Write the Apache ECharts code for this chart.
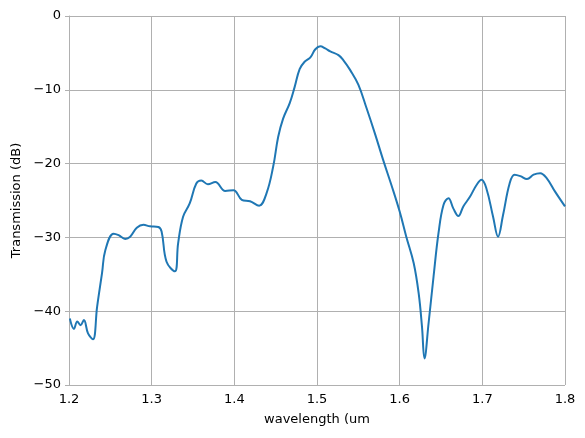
<!DOCTYPE html>
<html>
<head>
<meta charset="utf-8">
<script src="https://cdn.jsdelivr.net/npm/echarts@6/dist/echarts.min.js"></script>
<style>html,body{margin:0;padding:0;background:#fff}#chart{width:585px;height:438px}</style>
</head>
<body>
<div id="chart"></div>
<script>
// wavelength (um) and transmission (dB)
const wavelength = [1.201,1.206,1.210,1.214,1.218,1.223,1.229,1.234,1.240,1.244,1.254,1.260,1.268,1.274,1.282,1.290,1.298,1.308,1.312,1.318,1.328,1.332,1.338,1.346,1.354,1.360,1.368,1.377,1.389,1.399,1.409,1.419,1.430,1.439,1.447,1.453,1.459,1.467,1.473,1.479,1.485,1.492,1.498,1.504,1.510,1.516,1.526,1.532,1.540,1.550,1.560,1.570,1.580,1.590,1.600,1.608,1.617,1.623,1.627,1.630,1.635,1.641,1.647,1.653,1.659,1.665,1.671,1.677,1.685,1.693,1.699,1.705,1.713,1.719,1.725,1.733,1.739,1.746,1.754,1.762,1.770,1.778,1.788,1.800];
const transmission = [-41.0,-42.4,-41.4,-41.9,-41.2,-43.0,-43.8,-39.4,-34.8,-31.7,-29.5,-29.7,-30.2,-29.9,-28.7,-28.3,-28.5,-28.6,-29.2,-33.3,-34.6,-30.8,-27.2,-25.4,-22.7,-22.3,-22.8,-22.5,-23.7,-23.6,-24.9,-25.1,-25.7,-24.0,-20.4,-16.4,-13.9,-11.8,-9.6,-7.2,-6.2,-5.6,-4.5,-4.1,-4.4,-4.8,-5.3,-6.0,-7.3,-9.3,-12.5,-15.9,-19.5,-22.9,-26.5,-29.9,-33.5,-37.6,-42.1,-46.4,-41.6,-35.3,-29.4,-25.6,-24.7,-26.1,-27.1,-25.8,-24.5,-22.9,-22.2,-23.4,-27.2,-29.9,-27.0,-22.7,-21.5,-21.7,-22.1,-21.5,-21.3,-22.0,-23.8,-25.8];

const chart = echarts.init(document.getElementById('chart'));
const axisCommon = {
    axisLine: {show: true, lineStyle: {color: '#b0b0b0'}},
    axisTick: {show: true, length: 4, lineStyle: {color: '#b0b0b0'}},
    axisLabel: {color: '#000', fontSize: 13, fontFamily: 'DejaVu Sans'},
    splitLine: {show: true, lineStyle: {color: '#b0b0b0', width: 1}},
    nameTextStyle: {color: '#000', fontSize: 13, fontFamily: 'DejaVu Sans'}
};
chart.setOption({
    animation: false,
    grid: {left: 69, right: 20, top: 16, bottom: 53},
    xAxis: Object.assign({
        type: 'value', min: 1.2, max: 1.8, interval: 0.1,
        name: 'wavelength (um', nameLocation: 'middle', nameGap: 28,
        axisLabel: Object.assign({}, axisCommon.axisLabel, {formatter: v => v.toFixed(1)})
    }, {axisLine: axisCommon.axisLine, axisTick: axisCommon.axisTick, splitLine: axisCommon.splitLine, nameTextStyle: axisCommon.nameTextStyle}),
    yAxis: Object.assign({}, axisCommon, {
        type: 'value', min: -50, max: 0, interval: 10,
        name: 'Transmission (dB)', nameLocation: 'middle', nameGap: 42,
        axisLabel: Object.assign({}, axisCommon.axisLabel, {formatter: v => v < 0 ? '\u2212' + Math.abs(v) : String(v)})
    }),
    series: [{
        type: 'line',
        data: wavelength.map((w, i) => [w, transmission[i]]),
        smooth: 0.4,
        showSymbol: false,
        lineStyle: {color: '#1f77b4', width: 2}
    }]
});
</script>
</body>
</html>
